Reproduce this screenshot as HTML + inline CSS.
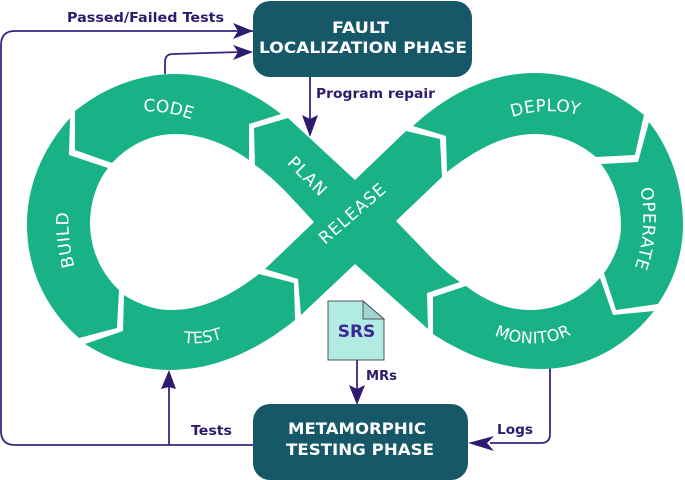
<!DOCTYPE html>
<html>
<head>
<meta charset="utf-8">
<style>
html,body{margin:0;padding:0;background:#fff;width:685px;height:480px;overflow:hidden}
svg{display:block}
.l{font-family:"DejaVu Sans","Liberation Sans",sans-serif;font-size:17px;fill:#fff;text-anchor:middle}
.b{font-family:"DejaVu Sans","Liberation Sans",sans-serif;font-weight:bold;font-size:16px;fill:#fff;text-anchor:middle}
.a{font-family:"DejaVu Sans","Liberation Sans",sans-serif;font-weight:bold;font-size:13.5px;fill:#2e1a6e}
.ln{fill:none;stroke:#3a2480;stroke-width:1.8}
.h{fill:#2e1a6e}
.g{fill:#19b287}
</style>
</head>
<body>
<svg width="685" height="480" viewBox="0 0 685 480" xmlns="http://www.w3.org/2000/svg">
<defs>
<path id="pCode" d="M139 112 C155 110 175 113 196 121"/>
<path id="pDeploy" d="M507 119 C530 110 560 108 584 117"/>
<path id="pOperate" d="M639 182 C646 210 645 245 632 274"/>
<path id="pMonitor" d="M490 333 C515 347 550 347 576 332"/>
<path id="pTest" d="M180 342 C195 345 210 343 226 337"/>
<path id="pBuild" d="M76 273 C70 250 67 230 69 205"/>
</defs>

<!-- connectors -->
<path class="ln" d="M253 31 L15 31 Q1 31 1 45 L1 431 Q1 445 15 445 L253 445"/>
<path class="ln" d="M165 74 L165 62 Q165 54 173 54 L240 52"/>
<path class="ln" d="M310 77 L310 120"/>
<path class="ln" d="M169 445 L169 385"/>
<path class="ln" d="M357 360 L357 390"/>
<path class="ln" d="M550 368 L550 434 Q550 443 541 443 L490 443"/>
<polygon class="h" points="253,31 233,23 238,31 233,39"/>
<polygon class="h" points="253,52 233,45 238,52 233,60"/>
<polygon class="h" points="310,137 302,115 310,119 318,115"/>
<polygon class="h" points="169,370 161,389 169,387 176,389"/>
<polygon class="h" points="357,405 349,385 357,389 365,385"/>
<polygon class="h" points="468,443 494,436 487,443 494,451"/>

<!-- infinity segments -->
<path class="g" d="M75 111 C105 87 140 74 175 74 C215 74 250 90 281 114 L249 124 L249 160 C225 143 200 134 175 134 C152 134 130 144 112 163 L75 150 Z"/>
<path class="g" d="M70 118 L69 155 L108 168 C95 185 90 205 90 225 C91 252 102 274 119 290 L117 328 L79 338 C47 310 27 270 27 225 C27 185 43 148 70 118 Z"/>
<path class="g" d="M124 295 C140 305 155 310 172 310 C203 310 232 295 259 274 L294 283 L295 320 C258 350 215 370 170 370 C140 370 110 360 85 344 L123 331 Z"/>
<path class="g" d="M288 118 L254 128 L255 165 C277 180 296 203 314 222 L265 269 L298 279 L301 315 L355 264 L428 329 L427 293 L460 282 C448 274 435 262 423 249 L396 221 L442 177 L440 139 L406 131 L355 180 Z"/>
<path class="g" d="M413 126 C450 92 492 73 535 73 C575 73 613 90 644 115 L635 155 L596 157 C578 142 558 134 535 134 C503 134 474 151 447 172 L446 136 Z"/>
<path class="g" d="M649 122 C671 150 683 186 683 225 C683 255 673 282 658 304 L616 310 L604 273 C615 258 621 242 621 225 C621 200 613 180 601 164 L638 162 Z"/>
<path class="g" d="M466 286 C487 302 508 310 530 310 C557 310 582 298 600 278 L613 315 L654 311 C625 348 585 369 540 369 C501 369 465 355 433 334 L433 297 Z"/>

<!-- segment labels -->
<text class="l"><textPath href="#pCode" startOffset="50%">CODE</textPath></text>
<text class="l" letter-spacing="0.3"><textPath href="#pDeploy" startOffset="50%">DEPLOY</textPath></text>
<text class="l" letter-spacing="0.6"><textPath href="#pOperate" startOffset="50%">OPERATE</textPath></text>
<text class="l" style="font-size:16px" letter-spacing="0.5"><textPath href="#pMonitor" startOffset="50%">MONITOR</textPath></text>
<text class="l" style="font-size:16px"><textPath href="#pTest" startOffset="50%">TEST</textPath></text>
<text class="l" letter-spacing="0.8"><textPath href="#pBuild" startOffset="50%">BUILD</textPath></text>
<text class="l" letter-spacing="1" transform="translate(307 177) rotate(45)" dominant-baseline="central">PLAN</text>
<text class="l" letter-spacing="1" transform="translate(353 214) rotate(-41)" dominant-baseline="central">RELEASE</text>

<!-- phase boxes -->
<rect x="253" y="1" width="219" height="76" rx="17" fill="#175868"/>
<rect x="253" y="404" width="215" height="76" rx="17" fill="#175868"/>
<text class="b" x="360.500" y="33" textLength="57" lengthAdjust="spacingAndGlyphs">FAULT</text>
<text class="b" x="363" y="53" textLength="208" lengthAdjust="spacingAndGlyphs">LOCALIZATION PHASE</text>
<text class="b" x="357" y="434" textLength="138" lengthAdjust="spacingAndGlyphs">METAMORPHIC</text>
<text class="b" x="360" y="455" textLength="148" lengthAdjust="spacingAndGlyphs">TESTING PHASE</text>

<!-- connector labels -->
<text class="a" x="67" y="22" textLength="157" lengthAdjust="spacingAndGlyphs">Passed/Failed Tests</text>
<text class="a" x="316" y="98" textLength="119" lengthAdjust="spacingAndGlyphs">Program repair</text>
<text class="a" x="191" y="435" textLength="41" lengthAdjust="spacingAndGlyphs">Tests</text>
<text class="a" x="366" y="380" textLength="31" lengthAdjust="spacingAndGlyphs">MRs</text>
<text class="a" x="497" y="434" textLength="36" lengthAdjust="spacingAndGlyphs">Logs</text>

<!-- SRS document -->
<polygon points="328,301 363,301 384,319 384,360 328,360" fill="#b2ebe4" stroke="#555" stroke-width="1"/>
<polygon points="363,301 384,319 363,319" fill="#9fd6d3" stroke="#555" stroke-width="1"/>
<text x="356.500" y="337" font-family="'DejaVu Sans','Liberation Sans',sans-serif" font-weight="bold" font-size="17" fill="#3d2796" text-anchor="middle">SRS</text>
</svg>
</body>
</html>
